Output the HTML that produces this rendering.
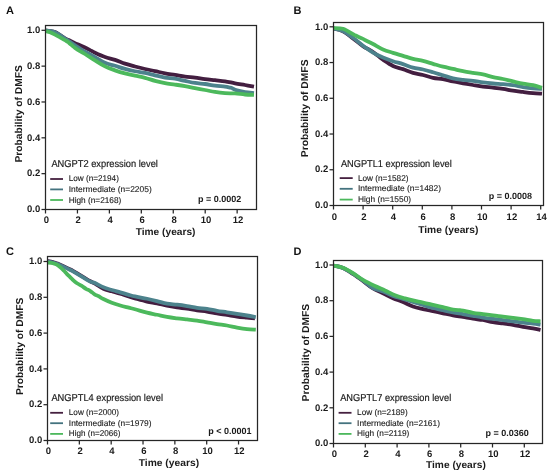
<!DOCTYPE html>
<html><head><meta charset="utf-8"><style>
html,body{margin:0;padding:0;background:#fff;}
svg{display:block;filter:blur(0.4px);text-rendering:geometricPrecision;}
</style></head><body>
<svg width="550" height="475" viewBox="0 0 550 475">
<rect width="550" height="475" fill="#fff"/>
<text x="5.90" y="13.60" text-anchor="start" style="font-family:'Liberation Sans',sans-serif;font-weight:bold;font-size:11px;fill:#111" >A</text>
<path d="M46.00,30.50 C46.67,30.57 48.50,30.66 50.00,30.93 C51.50,31.20 53.33,31.41 55.00,32.10 C56.67,32.80 58.33,34.06 60.00,35.10 C61.67,36.14 63.67,37.53 65.00,38.31 C66.33,39.09 67.17,39.35 68.00,39.76 C68.83,40.17 68.83,40.16 70.00,40.75 C71.17,41.34 73.33,42.59 75.00,43.33 C76.67,44.07 78.33,44.52 80.00,45.22 C81.67,45.92 83.33,46.71 85.00,47.52 C86.67,48.33 88.33,49.20 90.00,50.07 C91.67,50.94 92.50,51.56 95.00,52.72 C97.50,53.88 101.67,55.81 105.00,57.00 C108.33,58.19 111.67,58.74 115.00,59.85 C118.33,60.96 121.67,62.54 125.00,63.65 C128.33,64.76 131.67,65.61 135.00,66.50 C138.33,67.39 141.67,68.23 145.00,69.00 C148.33,69.77 151.67,70.38 155.00,71.10 C158.33,71.82 161.67,72.71 165.00,73.34 C168.33,73.97 171.67,74.34 175.00,74.88 C178.33,75.42 181.67,76.15 185.00,76.60 C188.33,77.05 191.67,77.18 195.00,77.60 C198.33,78.02 201.67,78.67 205.00,79.10 C208.33,79.53 211.67,79.83 215.00,80.20 C218.33,80.57 221.67,80.78 225.00,81.30 C228.33,81.82 231.67,82.68 235.00,83.30 C238.33,83.92 241.83,84.45 245.00,85.00 C248.17,85.55 252.50,86.33 254.00,86.60" fill="none" stroke="#431e40" stroke-width="3.8" stroke-linejoin="round" stroke-linecap="butt"/>
<path d="M46.00,30.50 C46.67,30.57 48.50,30.66 50.00,30.93 C51.50,31.20 53.33,31.44 55.00,32.15 C56.67,32.86 58.33,34.11 60.00,35.20 C61.67,36.29 63.67,37.82 65.00,38.71 C66.33,39.60 67.17,40.01 68.00,40.52 C68.83,41.04 68.83,41.02 70.00,41.80 C71.17,42.58 73.33,44.07 75.00,45.20 C76.67,46.33 78.33,47.49 80.00,48.57 C81.67,49.65 83.33,50.73 85.00,51.70 C86.67,52.67 88.33,53.50 90.00,54.40 C91.67,55.30 92.50,55.69 95.00,57.10 C97.50,58.51 101.67,61.41 105.00,62.85 C108.33,64.29 111.67,64.73 115.00,65.75 C118.33,66.77 121.67,68.03 125.00,68.95 C128.33,69.87 131.67,70.61 135.00,71.26 C138.33,71.92 141.67,72.21 145.00,72.88 C148.33,73.55 151.67,74.52 155.00,75.30 C158.33,76.08 161.67,76.98 165.00,77.54 C168.33,78.10 171.67,78.12 175.00,78.68 C178.33,79.24 181.67,80.17 185.00,80.88 C188.33,81.59 191.67,82.42 195.00,82.94 C198.33,83.46 201.67,83.55 205.00,84.00 C208.33,84.45 211.67,85.20 215.00,85.62 C218.33,86.04 222.50,86.21 225.00,86.54 C227.50,86.87 229.00,87.40 230.00,87.60 C231.00,87.80 229.83,87.29 231.00,87.76 C232.17,88.23 234.67,89.70 237.00,90.42 C239.33,91.14 242.17,91.65 245.00,92.10 C247.83,92.55 252.50,92.93 254.00,93.10" fill="none" stroke="#4c828c" stroke-width="3.8" stroke-linejoin="round" stroke-linecap="butt"/>
<path d="M46.00,31.20 C46.67,31.39 48.50,31.76 50.00,32.33 C51.50,32.90 53.33,33.76 55.00,34.60 C56.67,35.45 58.33,36.47 60.00,37.40 C61.67,38.33 63.67,39.40 65.00,40.16 C66.33,40.92 67.17,41.33 68.00,41.94 C68.83,42.55 69.33,43.22 70.00,43.80 C70.67,44.38 71.17,44.75 72.00,45.42 C72.83,46.09 73.67,46.89 75.00,47.85 C76.33,48.81 78.33,50.15 80.00,51.17 C81.67,52.20 82.50,52.47 85.00,54.00 C87.50,55.53 91.67,58.27 95.00,60.34 C98.33,62.41 101.67,64.73 105.00,66.40 C108.33,68.07 111.67,69.17 115.00,70.35 C118.33,71.52 121.67,72.56 125.00,73.45 C128.33,74.34 131.67,74.98 135.00,75.70 C138.33,76.42 141.67,76.95 145.00,77.80 C148.33,78.65 151.67,79.91 155.00,80.80 C158.33,81.69 161.67,82.51 165.00,83.14 C168.33,83.77 171.67,84.07 175.00,84.58 C178.33,85.09 181.67,85.59 185.00,86.18 C188.33,86.77 191.67,87.50 195.00,88.14 C198.33,88.78 201.67,89.36 205.00,90.00 C208.33,90.64 211.67,91.44 215.00,91.97 C218.33,92.50 221.67,92.91 225.00,93.15 C228.33,93.39 231.67,93.18 235.00,93.40 C238.33,93.62 241.83,94.27 245.00,94.50 C248.17,94.73 252.50,94.75 254.00,94.80" fill="none" stroke="#4cb95c" stroke-width="3.8" stroke-linejoin="round" stroke-linecap="butt"/>
<rect x="45.50" y="25.50" width="211.00" height="184.00" fill="none" stroke="#262626" stroke-width="1.25"/>
<line x1="41.50" y1="209.50" x2="45.50" y2="209.50" stroke="#262626" stroke-width="1.25"/>
<text x="40.20" y="212.20" text-anchor="end" style="font-family:'Liberation Sans',sans-serif;font-weight:bold;font-size:9.5px;fill:#1a1a1a" >0.0</text>
<line x1="41.50" y1="173.66" x2="45.50" y2="173.66" stroke="#262626" stroke-width="1.25"/>
<text x="40.20" y="176.36" text-anchor="end" style="font-family:'Liberation Sans',sans-serif;font-weight:bold;font-size:9.5px;fill:#1a1a1a" >0.2</text>
<line x1="41.50" y1="137.82" x2="45.50" y2="137.82" stroke="#262626" stroke-width="1.25"/>
<text x="40.20" y="140.52" text-anchor="end" style="font-family:'Liberation Sans',sans-serif;font-weight:bold;font-size:9.5px;fill:#1a1a1a" >0.4</text>
<line x1="41.50" y1="101.98" x2="45.50" y2="101.98" stroke="#262626" stroke-width="1.25"/>
<text x="40.20" y="104.68" text-anchor="end" style="font-family:'Liberation Sans',sans-serif;font-weight:bold;font-size:9.5px;fill:#1a1a1a" >0.6</text>
<line x1="41.50" y1="66.14" x2="45.50" y2="66.14" stroke="#262626" stroke-width="1.25"/>
<text x="40.20" y="68.84" text-anchor="end" style="font-family:'Liberation Sans',sans-serif;font-weight:bold;font-size:9.5px;fill:#1a1a1a" >0.8</text>
<line x1="41.50" y1="30.30" x2="45.50" y2="30.30" stroke="#262626" stroke-width="1.25"/>
<text x="40.20" y="33.00" text-anchor="end" style="font-family:'Liberation Sans',sans-serif;font-weight:bold;font-size:9.5px;fill:#1a1a1a" >1.0</text>
<line x1="45.50" y1="209.50" x2="45.50" y2="213.50" stroke="#262626" stroke-width="1.25"/>
<text x="46.30" y="222.80" text-anchor="middle" style="font-family:'Liberation Sans',sans-serif;font-weight:bold;font-size:9.5px;fill:#1a1a1a" >0</text>
<line x1="77.44" y1="209.50" x2="77.44" y2="213.50" stroke="#262626" stroke-width="1.25"/>
<text x="78.24" y="222.80" text-anchor="middle" style="font-family:'Liberation Sans',sans-serif;font-weight:bold;font-size:9.5px;fill:#1a1a1a" >2</text>
<line x1="109.38" y1="209.50" x2="109.38" y2="213.50" stroke="#262626" stroke-width="1.25"/>
<text x="110.18" y="222.80" text-anchor="middle" style="font-family:'Liberation Sans',sans-serif;font-weight:bold;font-size:9.5px;fill:#1a1a1a" >4</text>
<line x1="141.32" y1="209.50" x2="141.32" y2="213.50" stroke="#262626" stroke-width="1.25"/>
<text x="142.12" y="222.80" text-anchor="middle" style="font-family:'Liberation Sans',sans-serif;font-weight:bold;font-size:9.5px;fill:#1a1a1a" >6</text>
<line x1="173.26" y1="209.50" x2="173.26" y2="213.50" stroke="#262626" stroke-width="1.25"/>
<text x="174.06" y="222.80" text-anchor="middle" style="font-family:'Liberation Sans',sans-serif;font-weight:bold;font-size:9.5px;fill:#1a1a1a" >8</text>
<line x1="205.20" y1="209.50" x2="205.20" y2="213.50" stroke="#262626" stroke-width="1.25"/>
<text x="206.00" y="222.80" text-anchor="middle" style="font-family:'Liberation Sans',sans-serif;font-weight:bold;font-size:9.5px;fill:#1a1a1a" >10</text>
<line x1="237.14" y1="209.50" x2="237.14" y2="213.50" stroke="#262626" stroke-width="1.25"/>
<text x="237.94" y="222.80" text-anchor="middle" style="font-family:'Liberation Sans',sans-serif;font-weight:bold;font-size:9.5px;fill:#1a1a1a" >12</text>
<text x="135.70" y="235.00" text-anchor="start" style="font-family:'Liberation Sans',sans-serif;font-weight:bold;font-size:10px;fill:#1a1a1a" textLength="59.8" lengthAdjust="spacingAndGlyphs">Time (years)</text>
<text transform="translate(22.40,162.60) rotate(-90)" x="0" y="0" style="font-family:'Liberation Sans',sans-serif;font-weight:bold;font-size:10px;fill:#1a1a1a" textLength="97.4" lengthAdjust="spacingAndGlyphs">Probability of DMFS</text>
<text x="51.40" y="166.90" text-anchor="start" style="font-family:'Liberation Sans',sans-serif;font-size:10px;fill:#1a1a1a;stroke:#1a1a1a;stroke-width:0.18" textLength="106.5" lengthAdjust="spacingAndGlyphs">ANGPT2 expression level</text>
<line x1="50.20" y1="179.00" x2="63.00" y2="179.00" stroke="#45203f" stroke-width="1.8"/>
<text x="68.70" y="181.10" text-anchor="start" style="font-family:'Liberation Sans',sans-serif;font-size:8.4px;fill:#1a1a1a;stroke:#1a1a1a;stroke-width:0.12" textLength="50.2" lengthAdjust="spacingAndGlyphs">Low (n=2194)</text>
<line x1="50.20" y1="189.40" x2="63.00" y2="189.40" stroke="#44737f" stroke-width="1.8"/>
<text x="68.70" y="191.80" text-anchor="start" style="font-family:'Liberation Sans',sans-serif;font-size:8.4px;fill:#1a1a1a;stroke:#1a1a1a;stroke-width:0.12" textLength="83.0" lengthAdjust="spacingAndGlyphs">Intermediate (n=2205)</text>
<line x1="50.20" y1="200.00" x2="63.00" y2="200.00" stroke="#4cb85c" stroke-width="1.8"/>
<text x="68.70" y="202.50" text-anchor="start" style="font-family:'Liberation Sans',sans-serif;font-size:8.4px;fill:#1a1a1a;stroke:#1a1a1a;stroke-width:0.12" textLength="52.6" lengthAdjust="spacingAndGlyphs">High (n=2168)</text>
<text x="241.30" y="201.60" text-anchor="end" style="font-family:'Liberation Sans',sans-serif;font-weight:bold;font-size:9px;fill:#1a1a1a" >p = 0.0002</text>
<text x="293.60" y="13.60" text-anchor="start" style="font-family:'Liberation Sans',sans-serif;font-weight:bold;font-size:11px;fill:#111" >B</text>
<path d="M333.50,28.50 C335.08,28.97 339.75,29.65 343.00,31.30 C346.25,32.95 349.67,35.90 353.00,38.40 C356.33,40.90 360.50,44.53 363.00,46.30 C365.50,48.07 366.33,48.05 368.00,49.00 C369.67,49.95 371.33,50.86 373.00,52.00 C374.67,53.14 376.33,54.57 378.00,55.85 C379.67,57.13 380.50,58.02 383.00,59.70 C385.50,61.38 389.67,64.37 393.00,65.95 C396.33,67.53 399.67,68.01 403.00,69.16 C406.33,70.31 409.67,71.88 413.00,72.85 C416.33,73.82 419.67,74.16 423.00,75.00 C426.33,75.84 429.67,77.20 433.00,77.90 C436.33,78.60 439.67,78.60 443.00,79.20 C446.33,79.80 449.67,80.82 453.00,81.50 C456.33,82.18 459.67,82.72 463.00,83.30 C466.33,83.88 469.67,84.45 473.00,85.00 C476.33,85.55 479.67,86.15 483.00,86.59 C486.33,87.03 489.67,87.26 493.00,87.64 C496.33,88.02 499.67,88.38 503.00,88.88 C506.33,89.38 509.67,90.14 513.00,90.65 C516.33,91.16 519.67,91.55 523.00,91.96 C526.33,92.37 529.83,92.81 533.00,93.10 C536.17,93.39 540.50,93.60 542.00,93.70" fill="none" stroke="#431e40" stroke-width="3.8" stroke-linejoin="round" stroke-linecap="butt"/>
<path d="M333.50,28.50 C335.08,28.92 339.75,29.44 343.00,31.00 C346.25,32.56 349.67,35.39 353.00,37.84 C356.33,40.29 359.67,43.24 363.00,45.70 C366.33,48.16 369.67,50.63 373.00,52.60 C376.33,54.57 379.67,56.07 383.00,57.50 C386.33,58.93 389.67,60.10 393.00,61.20 C396.33,62.30 399.67,63.02 403.00,64.10 C406.33,65.18 409.67,66.80 413.00,67.70 C416.33,68.60 419.67,68.74 423.00,69.50 C426.33,70.26 429.67,71.27 433.00,72.24 C436.33,73.21 439.67,74.27 443.00,75.30 C446.33,76.33 449.67,77.62 453.00,78.40 C456.33,79.18 459.67,79.57 463.00,79.98 C466.33,80.39 469.67,80.45 473.00,80.86 C476.33,81.27 479.67,81.99 483.00,82.43 C486.33,82.87 489.67,83.20 493.00,83.49 C496.33,83.78 499.67,83.86 503.00,84.15 C506.33,84.44 509.67,84.73 513.00,85.22 C516.33,85.71 519.67,86.58 523.00,87.11 C526.33,87.64 529.83,88.10 533.00,88.40 C536.17,88.70 540.50,88.82 542.00,88.90" fill="none" stroke="#4c828c" stroke-width="3.8" stroke-linejoin="round" stroke-linecap="butt"/>
<path d="M333.50,28.00 C335.08,28.13 339.75,27.78 343.00,28.80 C346.25,29.82 351.00,33.07 353.00,34.14 C355.00,35.21 353.33,34.43 355.00,35.22 C356.67,36.01 361.33,38.10 363.00,38.90 C364.67,39.70 363.33,39.20 365.00,40.04 C366.67,40.88 370.00,42.39 373.00,43.96 C376.00,45.53 379.67,47.98 383.00,49.46 C386.33,50.94 389.67,51.79 393.00,52.86 C396.33,53.93 399.67,54.86 403.00,55.86 C406.33,56.86 409.67,58.03 413.00,58.88 C416.33,59.73 419.67,60.14 423.00,60.96 C426.33,61.78 429.67,62.87 433.00,63.83 C436.33,64.79 439.67,65.86 443.00,66.70 C446.33,67.55 449.67,68.15 453.00,68.90 C456.33,69.65 459.67,70.53 463.00,71.20 C466.33,71.87 469.67,72.37 473.00,72.90 C476.33,73.43 479.67,73.69 483.00,74.39 C486.33,75.09 489.67,76.31 493.00,77.08 C496.33,77.85 499.67,78.28 503.00,79.00 C506.33,79.72 509.67,80.65 513.00,81.43 C516.33,82.21 519.67,83.07 523.00,83.70 C526.33,84.33 529.83,84.50 533.00,85.20 C536.17,85.90 540.50,87.45 542.00,87.90" fill="none" stroke="#4cb95c" stroke-width="3.8" stroke-linejoin="round" stroke-linecap="butt"/>
<rect x="333.50" y="22.50" width="210.00" height="183.00" fill="none" stroke="#262626" stroke-width="1.25"/>
<line x1="329.50" y1="205.50" x2="333.50" y2="205.50" stroke="#262626" stroke-width="1.25"/>
<text x="328.20" y="208.20" text-anchor="end" style="font-family:'Liberation Sans',sans-serif;font-weight:bold;font-size:9.5px;fill:#1a1a1a" >0.0</text>
<line x1="329.50" y1="169.76" x2="333.50" y2="169.76" stroke="#262626" stroke-width="1.25"/>
<text x="328.20" y="172.46" text-anchor="end" style="font-family:'Liberation Sans',sans-serif;font-weight:bold;font-size:9.5px;fill:#1a1a1a" >0.2</text>
<line x1="329.50" y1="134.02" x2="333.50" y2="134.02" stroke="#262626" stroke-width="1.25"/>
<text x="328.20" y="136.72" text-anchor="end" style="font-family:'Liberation Sans',sans-serif;font-weight:bold;font-size:9.5px;fill:#1a1a1a" >0.4</text>
<line x1="329.50" y1="98.28" x2="333.50" y2="98.28" stroke="#262626" stroke-width="1.25"/>
<text x="328.20" y="100.98" text-anchor="end" style="font-family:'Liberation Sans',sans-serif;font-weight:bold;font-size:9.5px;fill:#1a1a1a" >0.6</text>
<line x1="329.50" y1="62.54" x2="333.50" y2="62.54" stroke="#262626" stroke-width="1.25"/>
<text x="328.20" y="65.24" text-anchor="end" style="font-family:'Liberation Sans',sans-serif;font-weight:bold;font-size:9.5px;fill:#1a1a1a" >0.8</text>
<line x1="329.50" y1="26.80" x2="333.50" y2="26.80" stroke="#262626" stroke-width="1.25"/>
<text x="328.20" y="29.50" text-anchor="end" style="font-family:'Liberation Sans',sans-serif;font-weight:bold;font-size:9.5px;fill:#1a1a1a" >1.0</text>
<line x1="333.50" y1="205.50" x2="333.50" y2="209.50" stroke="#262626" stroke-width="1.25"/>
<text x="334.30" y="219.50" text-anchor="middle" style="font-family:'Liberation Sans',sans-serif;font-weight:bold;font-size:9.5px;fill:#1a1a1a" >0</text>
<line x1="363.10" y1="205.50" x2="363.10" y2="209.50" stroke="#262626" stroke-width="1.25"/>
<text x="363.90" y="219.50" text-anchor="middle" style="font-family:'Liberation Sans',sans-serif;font-weight:bold;font-size:9.5px;fill:#1a1a1a" >2</text>
<line x1="392.70" y1="205.50" x2="392.70" y2="209.50" stroke="#262626" stroke-width="1.25"/>
<text x="393.50" y="219.50" text-anchor="middle" style="font-family:'Liberation Sans',sans-serif;font-weight:bold;font-size:9.5px;fill:#1a1a1a" >4</text>
<line x1="422.30" y1="205.50" x2="422.30" y2="209.50" stroke="#262626" stroke-width="1.25"/>
<text x="423.10" y="219.50" text-anchor="middle" style="font-family:'Liberation Sans',sans-serif;font-weight:bold;font-size:9.5px;fill:#1a1a1a" >6</text>
<line x1="451.90" y1="205.50" x2="451.90" y2="209.50" stroke="#262626" stroke-width="1.25"/>
<text x="452.70" y="219.50" text-anchor="middle" style="font-family:'Liberation Sans',sans-serif;font-weight:bold;font-size:9.5px;fill:#1a1a1a" >8</text>
<line x1="481.50" y1="205.50" x2="481.50" y2="209.50" stroke="#262626" stroke-width="1.25"/>
<text x="482.30" y="219.50" text-anchor="middle" style="font-family:'Liberation Sans',sans-serif;font-weight:bold;font-size:9.5px;fill:#1a1a1a" >10</text>
<line x1="511.10" y1="205.50" x2="511.10" y2="209.50" stroke="#262626" stroke-width="1.25"/>
<text x="511.90" y="219.50" text-anchor="middle" style="font-family:'Liberation Sans',sans-serif;font-weight:bold;font-size:9.5px;fill:#1a1a1a" >12</text>
<line x1="540.70" y1="205.50" x2="540.70" y2="209.50" stroke="#262626" stroke-width="1.25"/>
<text x="541.50" y="219.50" text-anchor="middle" style="font-family:'Liberation Sans',sans-serif;font-weight:bold;font-size:9.5px;fill:#1a1a1a" >14</text>
<text x="418.20" y="233.20" text-anchor="start" style="font-family:'Liberation Sans',sans-serif;font-weight:bold;font-size:10px;fill:#1a1a1a" textLength="60.3" lengthAdjust="spacingAndGlyphs">Time (years)</text>
<text transform="translate(308.10,157.20) rotate(-90)" x="0" y="0" style="font-family:'Liberation Sans',sans-serif;font-weight:bold;font-size:10px;fill:#1a1a1a" textLength="97.7" lengthAdjust="spacingAndGlyphs">Probability of DMFS</text>
<text x="340.90" y="166.80" text-anchor="start" style="font-family:'Liberation Sans',sans-serif;font-size:10px;fill:#1a1a1a;stroke:#1a1a1a;stroke-width:0.18" textLength="110.9" lengthAdjust="spacingAndGlyphs">ANGPTL1 expression level</text>
<line x1="339.70" y1="178.10" x2="352.70" y2="178.10" stroke="#45203f" stroke-width="1.8"/>
<text x="357.90" y="181.00" text-anchor="start" style="font-family:'Liberation Sans',sans-serif;font-size:8.4px;fill:#1a1a1a;stroke:#1a1a1a;stroke-width:0.12" textLength="50.6" lengthAdjust="spacingAndGlyphs">Low (n=1582)</text>
<line x1="339.70" y1="188.80" x2="352.70" y2="188.80" stroke="#44737f" stroke-width="1.8"/>
<text x="357.90" y="191.10" text-anchor="start" style="font-family:'Liberation Sans',sans-serif;font-size:8.4px;fill:#1a1a1a;stroke:#1a1a1a;stroke-width:0.12" textLength="83.1" lengthAdjust="spacingAndGlyphs">Intermediate (n=1482)</text>
<line x1="339.70" y1="199.60" x2="352.70" y2="199.60" stroke="#4cb85c" stroke-width="1.8"/>
<text x="357.90" y="201.50" text-anchor="start" style="font-family:'Liberation Sans',sans-serif;font-size:8.4px;fill:#1a1a1a;stroke:#1a1a1a;stroke-width:0.12" textLength="53.2" lengthAdjust="spacingAndGlyphs">High (n=1550)</text>
<text x="532.00" y="198.70" text-anchor="end" style="font-family:'Liberation Sans',sans-serif;font-weight:bold;font-size:9px;fill:#1a1a1a" >p = 0.0008</text>
<text x="6.00" y="254.60" text-anchor="start" style="font-family:'Liberation Sans',sans-serif;font-weight:bold;font-size:11px;fill:#111" >C</text>
<path d="M47.50,261.00 C48.08,261.08 49.83,261.25 51.00,261.50 C52.17,261.75 53.40,262.17 54.50,262.50 C55.60,262.83 56.02,262.85 57.60,263.50 C59.18,264.15 61.88,265.40 64.00,266.40 C66.12,267.39 68.73,268.68 70.30,269.47 C71.87,270.26 71.48,270.06 73.40,271.16 C75.32,272.26 78.98,274.39 81.80,276.07 C84.62,277.75 88.10,280.01 90.30,281.26 C92.50,282.51 92.82,282.33 95.00,283.57 C97.18,284.81 100.60,287.44 103.40,288.72 C106.20,290.00 108.98,290.43 111.80,291.27 C114.62,292.11 117.48,292.90 120.30,293.78 C123.12,294.66 126.25,295.79 128.70,296.56 C131.15,297.33 131.95,297.56 135.00,298.40 C138.05,299.23 143.33,300.75 147.00,301.57 C150.67,302.39 153.67,302.61 157.00,303.30 C160.33,303.99 163.67,305.02 167.00,305.70 C170.33,306.38 173.67,306.90 177.00,307.40 C180.33,307.90 183.67,308.20 187.00,308.70 C190.33,309.20 193.67,309.93 197.00,310.40 C200.33,310.87 203.67,311.00 207.00,311.50 C210.33,312.00 213.67,312.83 217.00,313.40 C220.33,313.97 223.67,314.38 227.00,314.90 C230.33,315.42 233.67,316.05 237.00,316.50 C240.33,316.95 244.00,317.27 247.00,317.58 C250.00,317.89 253.67,318.25 255.00,318.38" fill="none" stroke="#431e40" stroke-width="3.8" stroke-linejoin="round" stroke-linecap="butt"/>
<path d="M47.50,261.50 C48.08,261.58 49.83,261.75 51.00,262.00 C52.17,262.25 53.40,262.67 54.50,263.00 C55.60,263.33 56.02,263.35 57.60,264.00 C59.18,264.65 61.88,265.90 64.00,266.90 C66.12,267.89 68.73,269.18 70.30,269.97 C71.87,270.76 71.48,270.56 73.40,271.66 C75.32,272.76 78.98,274.90 81.80,276.57 C84.62,278.24 88.10,280.58 90.30,281.66 C92.50,282.74 92.82,282.13 95.00,283.07 C97.18,284.01 100.60,286.13 103.40,287.29 C106.20,288.45 108.98,289.16 111.80,290.01 C114.62,290.86 117.48,291.56 120.30,292.36 C123.12,293.16 126.25,294.12 128.70,294.81 C131.15,295.50 131.95,295.81 135.00,296.47 C138.05,297.13 143.33,297.98 147.00,298.75 C150.67,299.52 153.67,300.27 157.00,301.10 C160.33,301.93 163.67,303.12 167.00,303.72 C170.33,304.32 173.67,304.32 177.00,304.72 C180.33,305.12 183.67,305.59 187.00,306.10 C190.33,306.61 193.67,307.33 197.00,307.80 C200.33,308.27 203.67,308.40 207.00,308.90 C210.33,309.40 213.67,310.23 217.00,310.80 C220.33,311.37 223.67,311.78 227.00,312.30 C230.33,312.82 233.67,313.37 237.00,313.90 C240.33,314.43 243.87,314.97 247.00,315.50 C250.13,316.03 254.33,316.83 255.80,317.10" fill="none" stroke="#4c828c" stroke-width="3.8" stroke-linejoin="round" stroke-linecap="butt"/>
<path d="M47.50,262.50 C48.08,262.55 49.83,262.60 51.00,262.80 C52.17,263.00 53.40,263.32 54.50,263.70 C55.60,264.08 56.52,264.42 57.60,265.10 C58.68,265.78 59.93,266.85 61.00,267.80 C62.07,268.75 63.00,269.75 64.00,270.80 C65.00,271.85 65.95,273.02 67.00,274.10 C68.05,275.18 69.23,276.22 70.30,277.28 C71.37,278.33 72.28,279.44 73.40,280.43 C74.52,281.42 75.60,282.31 77.00,283.22 C78.40,284.13 80.30,284.96 81.80,285.91 C83.30,286.86 84.58,288.05 86.00,288.90 C87.42,289.75 88.80,290.07 90.30,291.02 C91.80,291.96 93.60,293.69 95.00,294.57 C96.40,295.45 97.30,295.54 98.70,296.28 C100.10,297.01 101.22,297.90 103.40,298.98 C105.58,300.06 108.98,301.67 111.80,302.76 C114.62,303.85 117.48,304.72 120.30,305.54 C123.12,306.36 126.25,307.07 128.70,307.69 C131.15,308.31 131.95,308.40 135.00,309.23 C138.05,310.06 143.33,311.77 147.00,312.69 C150.67,313.61 153.67,314.04 157.00,314.74 C160.33,315.44 163.67,316.29 167.00,316.89 C170.33,317.49 173.67,317.91 177.00,318.34 C180.33,318.77 183.67,319.09 187.00,319.45 C190.33,319.81 193.67,320.04 197.00,320.51 C200.33,320.98 203.67,321.69 207.00,322.27 C210.33,322.85 213.67,323.47 217.00,324.01 C220.33,324.55 223.67,324.90 227.00,325.50 C230.33,326.10 233.67,326.98 237.00,327.60 C240.33,328.22 243.87,328.85 247.00,329.20 C250.13,329.55 254.33,329.62 255.80,329.70" fill="none" stroke="#4cb95c" stroke-width="3.8" stroke-linejoin="round" stroke-linecap="butt"/>
<rect x="47.50" y="256.50" width="210.00" height="184.00" fill="none" stroke="#262626" stroke-width="1.25"/>
<line x1="43.50" y1="440.50" x2="47.50" y2="440.50" stroke="#262626" stroke-width="1.25"/>
<text x="42.20" y="443.20" text-anchor="end" style="font-family:'Liberation Sans',sans-serif;font-weight:bold;font-size:9.5px;fill:#1a1a1a" >0.0</text>
<line x1="43.50" y1="404.70" x2="47.50" y2="404.70" stroke="#262626" stroke-width="1.25"/>
<text x="42.20" y="407.40" text-anchor="end" style="font-family:'Liberation Sans',sans-serif;font-weight:bold;font-size:9.5px;fill:#1a1a1a" >0.2</text>
<line x1="43.50" y1="368.90" x2="47.50" y2="368.90" stroke="#262626" stroke-width="1.25"/>
<text x="42.20" y="371.60" text-anchor="end" style="font-family:'Liberation Sans',sans-serif;font-weight:bold;font-size:9.5px;fill:#1a1a1a" >0.4</text>
<line x1="43.50" y1="333.10" x2="47.50" y2="333.10" stroke="#262626" stroke-width="1.25"/>
<text x="42.20" y="335.80" text-anchor="end" style="font-family:'Liberation Sans',sans-serif;font-weight:bold;font-size:9.5px;fill:#1a1a1a" >0.6</text>
<line x1="43.50" y1="297.30" x2="47.50" y2="297.30" stroke="#262626" stroke-width="1.25"/>
<text x="42.20" y="300.00" text-anchor="end" style="font-family:'Liberation Sans',sans-serif;font-weight:bold;font-size:9.5px;fill:#1a1a1a" >0.8</text>
<line x1="43.50" y1="261.50" x2="47.50" y2="261.50" stroke="#262626" stroke-width="1.25"/>
<text x="42.20" y="264.20" text-anchor="end" style="font-family:'Liberation Sans',sans-serif;font-weight:bold;font-size:9.5px;fill:#1a1a1a" >1.0</text>
<line x1="47.50" y1="440.50" x2="47.50" y2="444.50" stroke="#262626" stroke-width="1.25"/>
<text x="48.30" y="453.60" text-anchor="middle" style="font-family:'Liberation Sans',sans-serif;font-weight:bold;font-size:9.5px;fill:#1a1a1a" >0</text>
<line x1="79.34" y1="440.50" x2="79.34" y2="444.50" stroke="#262626" stroke-width="1.25"/>
<text x="80.14" y="453.60" text-anchor="middle" style="font-family:'Liberation Sans',sans-serif;font-weight:bold;font-size:9.5px;fill:#1a1a1a" >2</text>
<line x1="111.18" y1="440.50" x2="111.18" y2="444.50" stroke="#262626" stroke-width="1.25"/>
<text x="111.98" y="453.60" text-anchor="middle" style="font-family:'Liberation Sans',sans-serif;font-weight:bold;font-size:9.5px;fill:#1a1a1a" >4</text>
<line x1="143.02" y1="440.50" x2="143.02" y2="444.50" stroke="#262626" stroke-width="1.25"/>
<text x="143.82" y="453.60" text-anchor="middle" style="font-family:'Liberation Sans',sans-serif;font-weight:bold;font-size:9.5px;fill:#1a1a1a" >6</text>
<line x1="174.86" y1="440.50" x2="174.86" y2="444.50" stroke="#262626" stroke-width="1.25"/>
<text x="175.66" y="453.60" text-anchor="middle" style="font-family:'Liberation Sans',sans-serif;font-weight:bold;font-size:9.5px;fill:#1a1a1a" >8</text>
<line x1="206.70" y1="440.50" x2="206.70" y2="444.50" stroke="#262626" stroke-width="1.25"/>
<text x="207.50" y="453.60" text-anchor="middle" style="font-family:'Liberation Sans',sans-serif;font-weight:bold;font-size:9.5px;fill:#1a1a1a" >10</text>
<line x1="238.54" y1="440.50" x2="238.54" y2="444.50" stroke="#262626" stroke-width="1.25"/>
<text x="239.34" y="453.60" text-anchor="middle" style="font-family:'Liberation Sans',sans-serif;font-weight:bold;font-size:9.5px;fill:#1a1a1a" >12</text>
<text x="138.70" y="466.40" text-anchor="start" style="font-family:'Liberation Sans',sans-serif;font-weight:bold;font-size:10px;fill:#1a1a1a" textLength="60.4" lengthAdjust="spacingAndGlyphs">Time (years)</text>
<text transform="translate(22.80,395.00) rotate(-90)" x="0" y="0" style="font-family:'Liberation Sans',sans-serif;font-weight:bold;font-size:10px;fill:#1a1a1a" textLength="97.3" lengthAdjust="spacingAndGlyphs">Probability of DMFS</text>
<text x="51.40" y="401.00" text-anchor="start" style="font-family:'Liberation Sans',sans-serif;font-size:10px;fill:#1a1a1a;stroke:#1a1a1a;stroke-width:0.18" textLength="111.6" lengthAdjust="spacingAndGlyphs">ANGPTL4 expression level</text>
<line x1="50.20" y1="412.80" x2="63.00" y2="412.80" stroke="#45203f" stroke-width="1.8"/>
<text x="68.80" y="415.30" text-anchor="start" style="font-family:'Liberation Sans',sans-serif;font-size:8.4px;fill:#1a1a1a;stroke:#1a1a1a;stroke-width:0.12" textLength="50.3" lengthAdjust="spacingAndGlyphs">Low (n=2000)</text>
<line x1="50.20" y1="423.20" x2="63.00" y2="423.20" stroke="#44737f" stroke-width="1.8"/>
<text x="68.80" y="425.80" text-anchor="start" style="font-family:'Liberation Sans',sans-serif;font-size:8.4px;fill:#1a1a1a;stroke:#1a1a1a;stroke-width:0.12" textLength="82.7" lengthAdjust="spacingAndGlyphs">Intermediate (n=1979)</text>
<line x1="50.20" y1="433.90" x2="63.00" y2="433.90" stroke="#4cb85c" stroke-width="1.8"/>
<text x="68.80" y="436.00" text-anchor="start" style="font-family:'Liberation Sans',sans-serif;font-size:8.4px;fill:#1a1a1a;stroke:#1a1a1a;stroke-width:0.12" textLength="51.6" lengthAdjust="spacingAndGlyphs">High (n=2066)</text>
<text x="251.50" y="433.50" text-anchor="end" style="font-family:'Liberation Sans',sans-serif;font-weight:bold;font-size:9px;fill:#1a1a1a" >p &lt; 0.0001</text>
<text x="293.60" y="254.80" text-anchor="start" style="font-family:'Liberation Sans',sans-serif;font-weight:bold;font-size:11px;fill:#111" >D</text>
<path d="M333.50,265.50 C335.08,265.92 339.75,266.58 343.00,268.00 C346.25,269.42 349.67,271.83 353.00,274.00 C356.33,276.17 359.67,278.58 363.00,281.00 C366.33,283.42 369.67,286.47 373.00,288.50 C376.33,290.53 379.67,291.58 383.00,293.20 C386.33,294.82 389.67,296.73 393.00,298.20 C396.33,299.67 399.67,300.62 403.00,302.00 C406.33,303.38 409.67,305.32 413.00,306.50 C416.33,307.68 419.67,308.32 423.00,309.10 C426.33,309.88 429.67,310.50 433.00,311.20 C436.33,311.90 439.67,312.60 443.00,313.30 C446.33,314.00 449.67,314.78 453.00,315.40 C456.33,316.02 459.67,316.45 463.00,317.00 C466.33,317.55 469.67,318.20 473.00,318.70 C476.33,319.20 479.67,319.43 483.00,320.00 C486.33,320.57 489.67,321.52 493.00,322.10 C496.33,322.68 499.67,323.01 503.00,323.47 C506.33,323.93 509.67,324.28 513.00,324.84 C516.33,325.39 519.67,326.21 523.00,326.80 C526.33,327.39 530.08,327.87 533.00,328.40 C535.92,328.93 539.25,329.73 540.50,330.00" fill="none" stroke="#431e40" stroke-width="3.8" stroke-linejoin="round" stroke-linecap="butt"/>
<path d="M333.50,265.50 C335.08,265.92 339.75,266.63 343.00,268.00 C346.25,269.37 349.67,271.62 353.00,273.70 C356.33,275.78 359.67,278.10 363.00,280.50 C366.33,282.90 369.67,286.27 373.00,288.10 C376.33,289.93 379.67,290.20 383.00,291.50 C386.33,292.80 389.67,294.66 393.00,295.90 C396.33,297.14 399.67,297.94 403.00,298.94 C406.33,299.94 409.67,300.87 413.00,301.88 C416.33,302.89 419.67,304.01 423.00,305.03 C426.33,306.05 429.67,307.13 433.00,307.98 C436.33,308.83 439.67,309.37 443.00,310.12 C446.33,310.87 449.67,311.82 453.00,312.47 C456.33,313.12 459.67,313.50 463.00,314.05 C466.33,314.61 469.67,315.22 473.00,315.80 C476.33,316.38 479.67,316.99 483.00,317.51 C486.33,318.03 489.67,318.48 493.00,318.91 C496.33,319.34 499.67,319.69 503.00,320.08 C506.33,320.47 509.67,320.86 513.00,321.28 C516.33,321.70 519.67,322.20 523.00,322.60 C526.33,323.00 530.08,323.35 533.00,323.70 C535.92,324.05 539.25,324.53 540.50,324.70" fill="none" stroke="#4c828c" stroke-width="3.8" stroke-linejoin="round" stroke-linecap="butt"/>
<path d="M333.50,265.50 C335.08,265.88 339.75,266.52 343.00,267.80 C346.25,269.08 349.67,271.18 353.00,273.20 C356.33,275.22 359.33,277.77 363.00,279.90 C366.67,282.03 371.33,284.25 375.00,286.00 C378.67,287.75 381.67,288.87 385.00,290.40 C388.33,291.93 391.67,293.87 395.00,295.20 C398.33,296.53 402.00,297.52 405.00,298.40 C408.00,299.28 410.00,299.77 413.00,300.46 C416.00,301.15 419.67,301.83 423.00,302.56 C426.33,303.29 429.67,304.09 433.00,304.86 C436.33,305.63 439.67,306.38 443.00,307.16 C446.33,307.94 450.17,309.04 453.00,309.56 C455.83,310.08 458.33,310.09 460.00,310.26 C461.67,310.43 460.83,310.14 463.00,310.56 C465.17,310.98 469.67,312.17 473.00,312.76 C476.33,313.35 479.67,313.65 483.00,314.10 C486.33,314.55 489.67,315.02 493.00,315.44 C496.33,315.86 499.67,316.20 503.00,316.60 C506.33,317.00 509.67,317.42 513.00,317.85 C516.33,318.28 519.67,318.71 523.00,319.20 C526.33,319.69 530.08,320.45 533.00,320.80 C535.92,321.15 539.25,321.22 540.50,321.30" fill="none" stroke="#4cb95c" stroke-width="3.8" stroke-linejoin="round" stroke-linecap="butt"/>
<rect x="333.50" y="260.50" width="209.00" height="183.00" fill="none" stroke="#262626" stroke-width="1.25"/>
<line x1="329.50" y1="443.50" x2="333.50" y2="443.50" stroke="#262626" stroke-width="1.25"/>
<text x="328.20" y="446.20" text-anchor="end" style="font-family:'Liberation Sans',sans-serif;font-weight:bold;font-size:9.5px;fill:#1a1a1a" >0.0</text>
<line x1="329.50" y1="407.80" x2="333.50" y2="407.80" stroke="#262626" stroke-width="1.25"/>
<text x="328.20" y="410.50" text-anchor="end" style="font-family:'Liberation Sans',sans-serif;font-weight:bold;font-size:9.5px;fill:#1a1a1a" >0.2</text>
<line x1="329.50" y1="372.10" x2="333.50" y2="372.10" stroke="#262626" stroke-width="1.25"/>
<text x="328.20" y="374.80" text-anchor="end" style="font-family:'Liberation Sans',sans-serif;font-weight:bold;font-size:9.5px;fill:#1a1a1a" >0.4</text>
<line x1="329.50" y1="336.40" x2="333.50" y2="336.40" stroke="#262626" stroke-width="1.25"/>
<text x="328.20" y="339.10" text-anchor="end" style="font-family:'Liberation Sans',sans-serif;font-weight:bold;font-size:9.5px;fill:#1a1a1a" >0.6</text>
<line x1="329.50" y1="300.70" x2="333.50" y2="300.70" stroke="#262626" stroke-width="1.25"/>
<text x="328.20" y="303.40" text-anchor="end" style="font-family:'Liberation Sans',sans-serif;font-weight:bold;font-size:9.5px;fill:#1a1a1a" >0.8</text>
<line x1="329.50" y1="265.00" x2="333.50" y2="265.00" stroke="#262626" stroke-width="1.25"/>
<text x="328.20" y="267.70" text-anchor="end" style="font-family:'Liberation Sans',sans-serif;font-weight:bold;font-size:9.5px;fill:#1a1a1a" >1.0</text>
<line x1="333.50" y1="443.50" x2="333.50" y2="447.50" stroke="#262626" stroke-width="1.25"/>
<text x="334.30" y="457.40" text-anchor="middle" style="font-family:'Liberation Sans',sans-serif;font-weight:bold;font-size:9.5px;fill:#1a1a1a" >0</text>
<line x1="365.30" y1="443.50" x2="365.30" y2="447.50" stroke="#262626" stroke-width="1.25"/>
<text x="366.10" y="457.40" text-anchor="middle" style="font-family:'Liberation Sans',sans-serif;font-weight:bold;font-size:9.5px;fill:#1a1a1a" >2</text>
<line x1="397.10" y1="443.50" x2="397.10" y2="447.50" stroke="#262626" stroke-width="1.25"/>
<text x="397.90" y="457.40" text-anchor="middle" style="font-family:'Liberation Sans',sans-serif;font-weight:bold;font-size:9.5px;fill:#1a1a1a" >4</text>
<line x1="428.90" y1="443.50" x2="428.90" y2="447.50" stroke="#262626" stroke-width="1.25"/>
<text x="429.70" y="457.40" text-anchor="middle" style="font-family:'Liberation Sans',sans-serif;font-weight:bold;font-size:9.5px;fill:#1a1a1a" >6</text>
<line x1="460.70" y1="443.50" x2="460.70" y2="447.50" stroke="#262626" stroke-width="1.25"/>
<text x="461.50" y="457.40" text-anchor="middle" style="font-family:'Liberation Sans',sans-serif;font-weight:bold;font-size:9.5px;fill:#1a1a1a" >8</text>
<line x1="492.50" y1="443.50" x2="492.50" y2="447.50" stroke="#262626" stroke-width="1.25"/>
<text x="493.30" y="457.40" text-anchor="middle" style="font-family:'Liberation Sans',sans-serif;font-weight:bold;font-size:9.5px;fill:#1a1a1a" >10</text>
<line x1="524.30" y1="443.50" x2="524.30" y2="447.50" stroke="#262626" stroke-width="1.25"/>
<text x="525.10" y="457.40" text-anchor="middle" style="font-family:'Liberation Sans',sans-serif;font-weight:bold;font-size:9.5px;fill:#1a1a1a" >12</text>
<text x="426.00" y="468.20" text-anchor="start" style="font-family:'Liberation Sans',sans-serif;font-weight:bold;font-size:10px;fill:#1a1a1a" textLength="59.8" lengthAdjust="spacingAndGlyphs">Time (years)</text>
<text transform="translate(309.20,401.40) rotate(-90)" x="0" y="0" style="font-family:'Liberation Sans',sans-serif;font-weight:bold;font-size:10px;fill:#1a1a1a" textLength="97.5" lengthAdjust="spacingAndGlyphs">Probability of DMFS</text>
<text x="340.20" y="400.90" text-anchor="start" style="font-family:'Liberation Sans',sans-serif;font-size:10px;fill:#1a1a1a;stroke:#1a1a1a;stroke-width:0.18" textLength="111.0" lengthAdjust="spacingAndGlyphs">ANGPTL7 expression level</text>
<line x1="338.60" y1="412.80" x2="351.50" y2="412.80" stroke="#45203f" stroke-width="1.8"/>
<text x="357.10" y="415.10" text-anchor="start" style="font-family:'Liberation Sans',sans-serif;font-size:8.4px;fill:#1a1a1a;stroke:#1a1a1a;stroke-width:0.12" textLength="50.6" lengthAdjust="spacingAndGlyphs">Low (n=2189)</text>
<line x1="338.60" y1="423.20" x2="351.50" y2="423.20" stroke="#44737f" stroke-width="1.8"/>
<text x="357.10" y="425.50" text-anchor="start" style="font-family:'Liberation Sans',sans-serif;font-size:8.4px;fill:#1a1a1a;stroke:#1a1a1a;stroke-width:0.12" textLength="82.9" lengthAdjust="spacingAndGlyphs">Intermediate (n=2161)</text>
<line x1="338.60" y1="433.90" x2="351.50" y2="433.90" stroke="#4cb85c" stroke-width="1.8"/>
<text x="357.10" y="436.00" text-anchor="start" style="font-family:'Liberation Sans',sans-serif;font-size:8.4px;fill:#1a1a1a;stroke:#1a1a1a;stroke-width:0.12" textLength="52.3" lengthAdjust="spacingAndGlyphs">High (n=2119)</text>
<text x="528.90" y="436.30" text-anchor="end" style="font-family:'Liberation Sans',sans-serif;font-weight:bold;font-size:9px;fill:#1a1a1a" >p = 0.0360</text>
</svg>
</body></html>
